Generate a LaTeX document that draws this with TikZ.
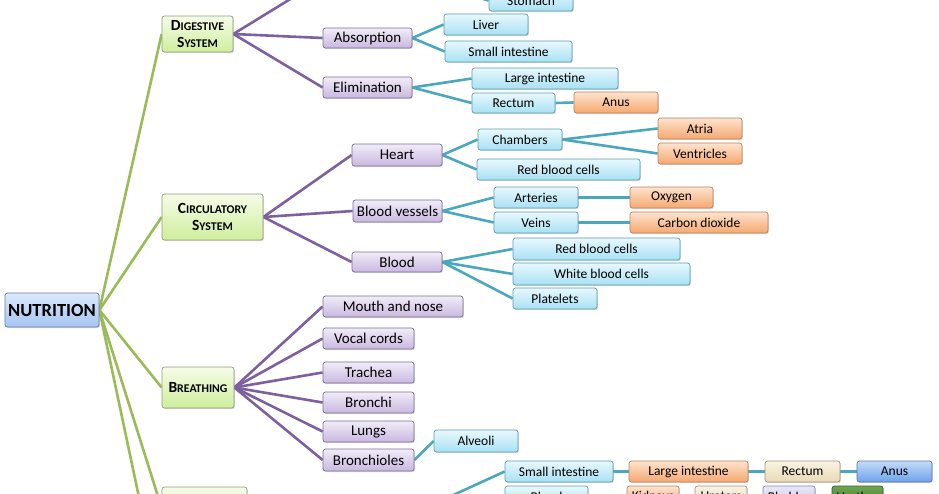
\documentclass[tikz,border=0pt]{standalone}
\usepackage{fontspec}
\setmainfont{Carlito}
\usetikzlibrary{shadows,backgrounds}
\newcommand\capsm[2]{{\fontsize{15.5}{16.5}\selectfont #1}{\fontsize{11.8}{16.5}\selectfont #2}}
\definecolor{grnT}{HTML}{F6FCE8}
\definecolor{grnBo}{HTML}{CFEE9C}
\definecolor{grnD}{HTML}{8F9C7E}
\definecolor{nutT}{HTML}{DCE8FB}
\definecolor{nutBo}{HTML}{A6C5F3}
\definecolor{nutD}{HTML}{6A7FA0}
\definecolor{purT}{HTML}{F1ECF8}
\definecolor{purBo}{HTML}{C9B8E0}
\definecolor{purD}{HTML}{7E6E96}
\definecolor{bluT}{HTML}{E8F8FD}
\definecolor{bluBo}{HTML}{A8E1F4}
\definecolor{bluD}{HTML}{5E9CB0}
\definecolor{orgT}{HTML}{FDE3CE}
\definecolor{orgBo}{HTML}{F6A86F}
\definecolor{orgD}{HTML}{B9825F}
\definecolor{tanT}{HTML}{FAF3E3}
\definecolor{tanBo}{HTML}{E8DAB6}
\definecolor{tanD}{HTML}{9F9479}
\definecolor{dbT}{HTML}{C4DBFA}
\definecolor{dbBo}{HTML}{6EA2EC}
\definecolor{dbD}{HTML}{5C779E}
\definecolor{lavT}{HTML}{E8E8F8}
\definecolor{lavBo}{HTML}{C4C6EA}
\definecolor{lavD}{HTML}{8587A8}
\definecolor{dgT}{HTML}{6FA552}
\definecolor{dgBo}{HTML}{3F7A2C}
\definecolor{dgD}{HTML}{3A5E2E}
\definecolor{lnG}{HTML}{9BBB59}
\definecolor{lnP}{HTML}{7D60A0}
\definecolor{lnB}{HTML}{4AA8BE}
\begin{document}
\begin{tikzpicture}[x=1pt,y=-1pt,
  box/.style={draw, rounded corners=2.5pt, inner sep=0pt, line width=0.7pt,
    drop shadow={shadow xshift=0.9pt,shadow yshift=-1.2pt,opacity=0.3}},
  grn/.style={box, draw=grnD, top color=grnT, bottom color=grnBo, font=\bfseries\fontsize{12}{16.5}\selectfont, align=center},
  nut/.style={box, draw=nutD, top color=nutT, bottom color=nutBo, font=\bfseries\fontsize{18.5}{20}\selectfont},
  pur/.style={box, draw=purD, top color=purT, bottom color=purBo, font=\fontsize{15}{17}\selectfont},
  blu/.style={box, draw=bluD, top color=bluT, bottom color=bluBo, font=\fontsize{13.5}{16}\selectfont},
  org/.style={box, draw=orgD, top color=orgT, bottom color=orgBo, font=\fontsize{13.5}{16}\selectfont},
  tan/.style={box, draw=tanD, top color=tanT, bottom color=tanBo, font=\fontsize{13.5}{16}\selectfont},
  dbl/.style={box, draw=dbD, top color=dbT, bottom color=dbBo, font=\fontsize{13.5}{16}\selectfont},
  lav/.style={box, draw=lavD, top color=lavT, bottom color=lavBo, font=\fontsize{13.5}{16}\selectfont},
  dgr/.style={box, draw=dgD, top color=dgT, bottom color=dgBo, font=\fontsize{13.5}{16}\selectfont},
  sz/.style 2 args={minimum width=#1pt, minimum height=#2pt},
  gl/.style={draw=lnG, line width=2.6pt},
  pl/.style={draw=lnP, line width=2.6pt},
  bl/.style={draw=lnB, line width=2.6pt}
]
\useasboundingbox (0,0) rectangle (939,493);
\clip (0,0) rectangle (939,493);

% level 0 and 1
\node[nut, sz={94}{34}] (nut) at (52,310) {NUTRITION};
\node[grn, sz={71}{36}] (dig) at (197.5,34) {\capsm{D}{IGESTIVE}\\\capsm{S}{YSTEM}};
\node[grn, sz={101}{46}] (cir) at (212.5,217) {\capsm{C}{IRCULATORY}\\\capsm{S}{YSTEM}};
\node[grn, sz={72}{41}] (bre) at (198,387.5) {\capsm{B}{REATHING}};
\node[grn, sz={85}{42}] (exc) at (204.5,508) {};
\coordinate (nxt) at (162,606);
\coordinate (ing) at (323,-21);
\coordinate (ingR) at (412,-21);
\coordinate (excR) at (414,513);

% digestive
\node[pur, sz={89}{20}] (abs) at (367.5,38) {Absorption};
\node[pur, sz={89}{21}] (eli) at (367.5,87.5) {Elimination};
\node[blu, sz={84}{21}] (sto) at (531,0.5) {Stomach};
\node[blu, sz={84}{21}] (liv) at (486,24.5) {Liver};
\node[blu, sz={127}{21}] (sin) at (508.5,51.5) {Small intestine};
\node[blu, sz={146}{21}] (lin) at (545,78.5) {Large intestine};
\node[blu, sz={83}{20}] (rec) at (513.5,103) {Rectum};
\node[org, sz={84}{21}] (anu) at (616,102.5) {Anus};

% circulatory
\node[pur, sz={90}{22}] (hea) at (397,155) {Heart};
\node[pur, sz={89}{22}] (bve) at (397.5,211) {Blood vessels};
\node[pur, sz={90}{20}] (blo) at (397,262) {Blood};
\node[blu, sz={84}{21}] (cha) at (520,139.5) {Chambers};
\node[blu, sz={163}{21}] (rbc) at (558.5,169.5) {Red blood cells};
\node[org, sz={84}{21}] (atr) at (700,128.5) {Atria};
\node[org, sz={84}{21}] (ven) at (700,153.5) {Ventricles};
\node[blu, sz={84}{21}] (art) at (536,197.5) {Arteries};
\node[blu, sz={84}{21}] (vei) at (536,222.5) {Veins};
\node[org, sz={83}{21}] (oxy) at (671.5,197.5) {Oxygen};
\node[org, sz={138}{21}] (cdi) at (699,222.5) {Carbon dioxide};
\node[blu, sz={167}{22}] (rbb) at (596.5,249) {Red blood cells};
\node[blu, sz={177}{22}] (wbc) at (601.5,274) {White blood cells};
\node[blu, sz={84}{21}] (pla) at (555,298.5) {Platelets};

% breathing
\node[pur, sz={140}{21}] (mou) at (393,306.5) {Mouth and nose};
\node[pur, sz={91}{21}] (voc) at (368.5,338.5) {Vocal cords};
\node[pur, sz={91}{21}] (tra) at (368.5,372.5) {Trachea};
\node[pur, sz={91}{21}] (bri) at (368.5,402.5) {Bronchi};
\node[pur, sz={91}{21}] (lun) at (368.5,431.5) {Lungs};
\node[pur, sz={91}{22}] (brl) at (368.5,460) {Bronchioles};
\node[blu, sz={84}{22}] (alv) at (476,441) {Alveoli};

% bottom rows
\node[blu, sz={108}{21}] (si2) at (559,471.5) {Small intestine};
\node[org, sz={119}{21}] (li2) at (688.5,471.5) {Large intestine};
\node[tan, sz={75}{21}] (re2) at (802.5,471.5) {Rectum};
\node[dbl, sz={75}{21}] (an2) at (894.5,471.5) {Anus};
\node[blu, sz={83}{21}] (bl3) at (546.5,496.5) {Blood};
\node[org, sz={52}{21}] (kid) at (653,496.5) {Kidneys};
\node[tan, sz={52}{21}] (ure) at (721,496.5) {Ureters};
\node[lav, sz={52}{21}] (bla) at (789,496.5) {Bladder};
\node[dgr, sz={51}{21}] (uth) at (857.5,496.5) {Urethra};

\begin{pgfonlayer}{background}
\draw[gl] (nut.east) -- (dig.west);
\draw[gl] (nut.east) -- (cir.west);
\draw[gl] (nut.east) -- (bre.west);
\draw[gl] (nut.east) -- (exc.west);
\draw[gl] (nut.east) -- (nxt);
\draw[pl] (dig.east) -- (ing);
\draw[pl] (dig.east) -- (abs.west);
\draw[pl] (dig.east) -- (eli.west);
\draw[bl] (ingR) -- (sto.west);
\draw[bl] (abs.east) -- (liv.west);
\draw[bl] (abs.east) -- (sin.west);
\draw[bl] (eli.east) -- (lin.west);
\draw[bl] (eli.east) -- (rec.west);
\draw[bl] (rec.east) -- (anu.west);
\draw[pl] (cir.east) -- (hea.west);
\draw[pl] (cir.east) -- (bve.west);
\draw[pl] (cir.east) -- (blo.west);
\draw[bl] (hea.east) -- (cha.west);
\draw[bl] (hea.east) -- (rbc.west);
\draw[bl] (cha.east) -- (atr.west);
\draw[bl] (cha.east) -- (ven.west);
\draw[bl] (bve.east) -- (art.west);
\draw[bl] (bve.east) -- (vei.west);
\draw[bl] (art.east) -- (oxy.west);
\draw[bl] (vei.east) -- (cdi.west);
\draw[bl] (blo.east) -- (rbb.west);
\draw[bl] (blo.east) -- (wbc.west);
\draw[bl] (blo.east) -- (pla.west);
\foreach \n in {mou,voc,tra,bri,lun,brl} \draw[pl] (bre.east) -- (\n.west);
\draw[bl] (brl.east) -- (alv.west);
\draw[bl] (excR) -- (si2.west);
\draw[bl] (excR) -- (bl3.west);
\draw[bl] (si2.east) -- (li2.west);
\draw[bl] (li2.east) -- (re2.west);
\draw[bl] (re2.east) -- (an2.west);
\draw[bl] (bl3.east) -- (kid.west);
\draw[bl] (kid.east) -- (ure.west);
\draw[bl] (ure.east) -- (bla.west);
\draw[bl] (bla.east) -- (uth.west);
\end{pgfonlayer}
\end{tikzpicture}
\end{document}
